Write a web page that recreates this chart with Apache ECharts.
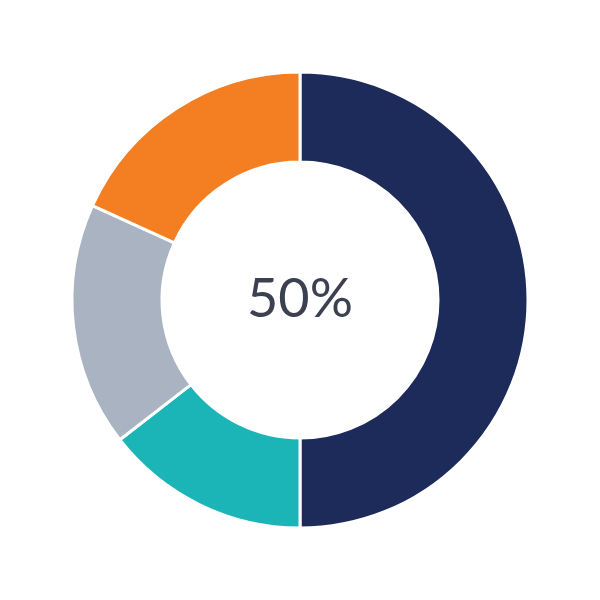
<!DOCTYPE html>
<html>
<head>
<meta charset="utf-8">
<script src="https://cdn.jsdelivr.net/npm/echarts@6/dist/echarts.min.js"></script>
<style>
  html, body { margin: 0; padding: 0; background: #fff; }
  #chart { width: 600px; height: 600px; }
</style>
</head>
<body>
<div id="chart"></div>
<script>
// valores de las porciones (sentido horario desde arriba)
const categorias = ['A', 'B', 'C', 'D'];
const valores = [50, 14.5, 17.3, 18.2];
const colores = ['#1c2b5a', '#1cb5b7', '#a9b3c1', '#f37f22'];
const textoCentro = '50%';

const myChart = echarts.init(document.getElementById('chart'));

const option = {
    animation: false,
    graphic: [{
        type: 'text',
        left: 'center',
        top: 'middle',
        style: {
            text: textoCentro,
            fontFamily: 'Lato',
            fontSize: 54,
            fill: '#3b4150'
        }
    }],
    series: [{
        type: 'pie',
        center: ['50%', '50%'],
        radius: ['46%', '76%'],
        startAngle: 90,
        clockwise: true,
        label: { show: false },
        labelLine: { show: false },
        emphasis: { disabled: true },
        itemStyle: {
            borderColor: '#fff',
            borderWidth: 3
        },
        data: categorias.map((c, i) => ({
            name: c,
            value: valores[i],
            itemStyle: { color: colores[i] }
        }))
    }]
};

myChart.setOption(option);
</script>
</body>
</html>
